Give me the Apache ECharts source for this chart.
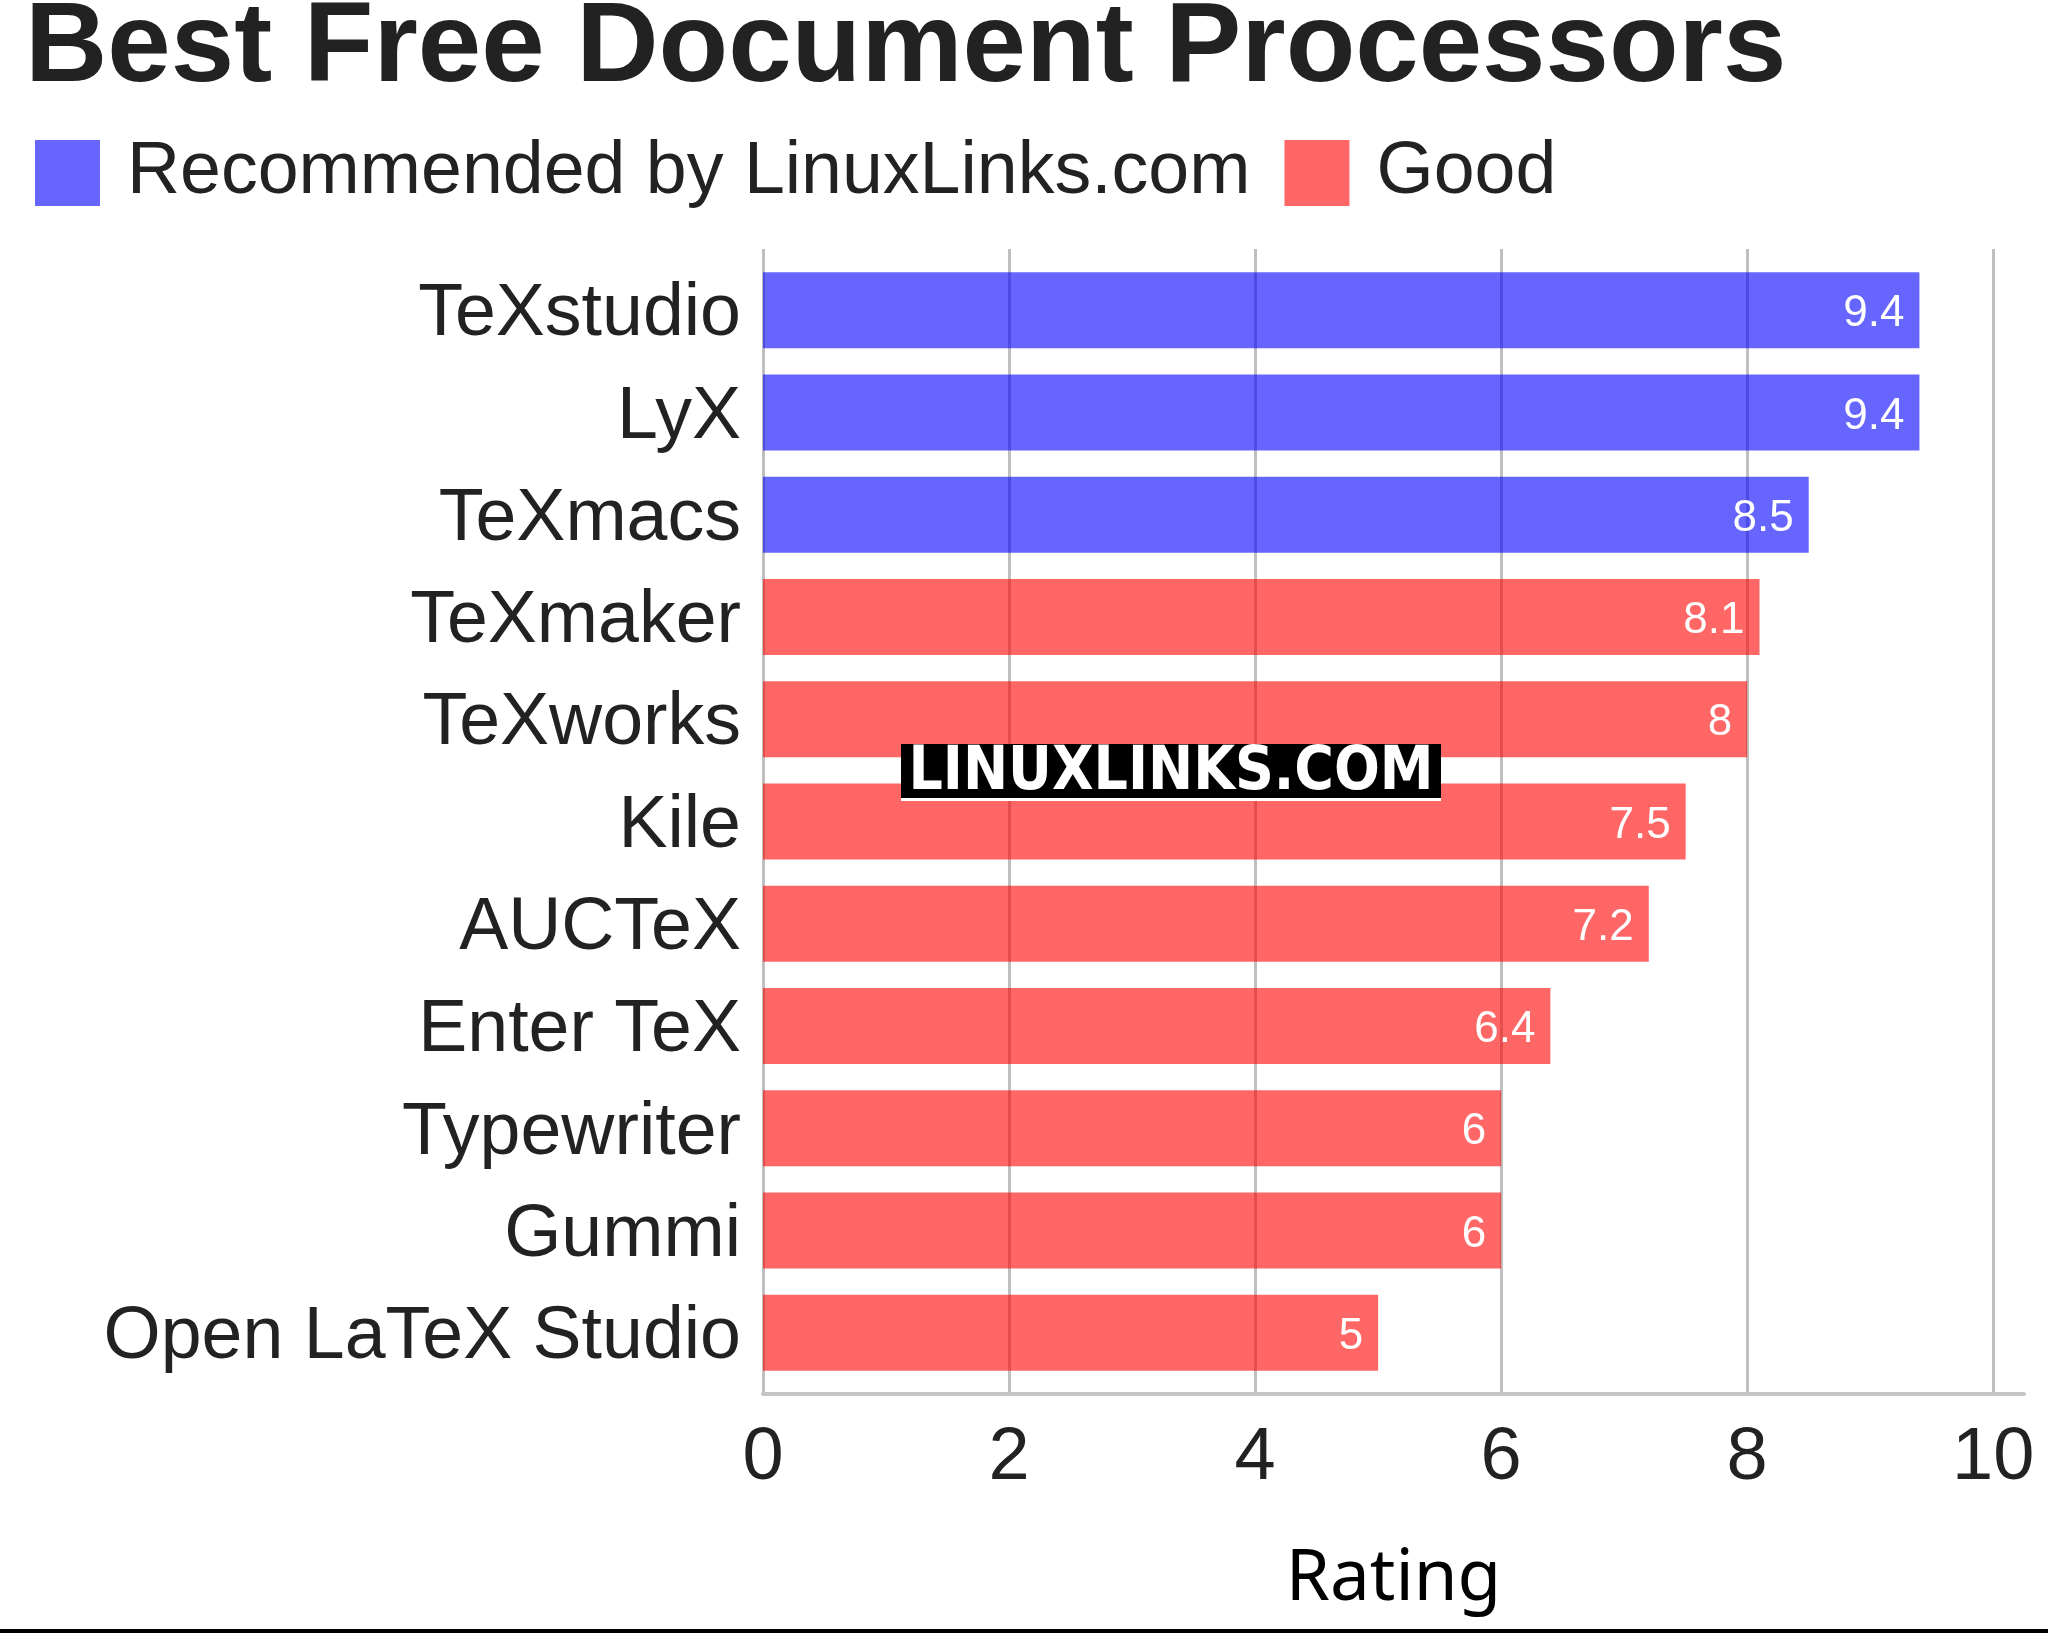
<!DOCTYPE html>
<html>
<head>
<meta charset="utf-8">
<script src="https://cdn.jsdelivr.net/npm/echarts@6/dist/echarts.min.js"></script>
<style>
html,body{margin:0;padding:0;background:#fff;}
#chart{width:2048px;height:1633px;}
</style>
</head>
<body>
<div id="chart"></div>
<script>
const categories = ['TeXstudio','LyX','TeXmacs','TeXmaker','TeXworks','Kile','AUCTeX','Enter TeX','Typewriter','Gummi','Open LaTeX Studio'];
const recommended = [9.4, 9.4, 8.5, null, null, null, null, null, null, null, null];
const good = [null, null, null, 8.1, 8, 7.5, 7.2, 6.4, 6, 6, 5];
const seriesNames = ['Recommended by LinuxLinks.com', 'Good'];
const xTicks = {min: 0, max: 10.25, interval: 2};

const chart = echarts.init(document.getElementById('chart'), null, {renderer: 'canvas'});
const labelFont = '"Liberation Sans", Arial, sans-serif';
const valueLabel = {
  show: true, position: 'insideRight', distance: 15,
  color: '#fff', fontSize: 44, fontFamily: labelFont,
  verticalAlign: 'top', lineHeight: 8
};
chart.setOption({
  animation: false,
  backgroundColor: '#fff',
  title: {
    text: 'Best Free Document Processors',
    left: 25, top: -7, padding: 0,
    textStyle: {fontSize: 114, fontWeight: 'bold', color: '#222', fontFamily: labelFont}
  },
  legend: {
    left: 35, top: 136, padding: 0,
    itemWidth: 65, itemHeight: 66, itemGap: 34,
    icon: 'rect',
    textStyle: {fontSize: 73.5, color: '#222', fontFamily: labelFont, padding: [0, 0, 0, 22]},
    data: seriesNames
  },
  grid: [
    {left: 763, right: 24, top: 249, bottom: 239},
    {left: 763, right: 24, top: 259, bottom: 249}
  ],
  xAxis: [
    {
      type: 'value', gridIndex: 0, min: xTicks.min, max: xTicks.max, interval: xTicks.interval,
      axisLine: {show: true, lineStyle: {color: '#c4c4c4', width: 4}},
      axisTick: {show: false},
      splitLine: {show: true, showMaxLine: false, lineStyle: {color: '#bfbfbf', width: 3}},
      axisLabel: {showMaxLabel: false, fontSize: 74, color: '#222', fontFamily: labelFont, margin: 28},
      name: 'Rating', nameLocation: 'middle', nameGap: 150,
      nameTextStyle: {fontSize: 71, color: '#000', fontFamily: '"Noto Sans", "Open Sans", sans-serif'}
    },
    {
      type: 'value', gridIndex: 1, min: xTicks.min, max: xTicks.max, interval: xTicks.interval,
      show: false, splitLine: {show: false}
    }
  ],
  yAxis: [
    {type: 'category', gridIndex: 0, data: categories, inverse: true, show: false},
    {
      type: 'category', gridIndex: 1, data: categories, inverse: true,
      axisLine: {show: false}, axisTick: {show: false},
      axisLabel: {fontSize: 73.5, color: '#222', fontFamily: labelFont, margin: 22,
                  verticalAlign: 'top', lineHeight: 10}
    }
  ],
  series: [
    {
      name: seriesNames[0], type: 'bar', xAxisIndex: 1, yAxisIndex: 1, stack: 'all',
      data: recommended, barCategoryGap: '25.7%',
      itemStyle: {color: 'rgba(0,0,255,0.6)'}, label: valueLabel
    },
    {
      name: seriesNames[1], type: 'bar', xAxisIndex: 1, yAxisIndex: 1, stack: 'all',
      data: good, barCategoryGap: '25.7%',
      itemStyle: {color: 'rgba(255,0,0,0.6)'}, label: valueLabel
    }
  ],
  graphic: [
    {
      type: 'group', left: 901, top: 743, zlevel: 5,
      children: [
        {type: 'rect', shape: {x: 0, y: 0, width: 540, height: 54}, style: {fill: '#000'}, z: 100, zlevel: 5},
        {type: 'rect', shape: {x: 0, y: 54, width: 540, height: 3}, style: {fill: '#fff'}, z: 100, zlevel: 5},
        {type: 'text', x: 270, y: 29, z: 101, zlevel: 5, style: {
          text: 'LINUXLINKS.COM', fill: '#fff', align: 'center', verticalAlign: 'middle',
          font: 'bold 60px "DejaVu Sans Condensed", "DejaVu Sans", sans-serif'
        }}
      ]
    },
    {type: 'rect', left: 0, bottom: 0, shape: {width: 2048, height: 4}, style: {fill: '#000'}, z: 100}
  ]
});
</script>
</body>
</html>
